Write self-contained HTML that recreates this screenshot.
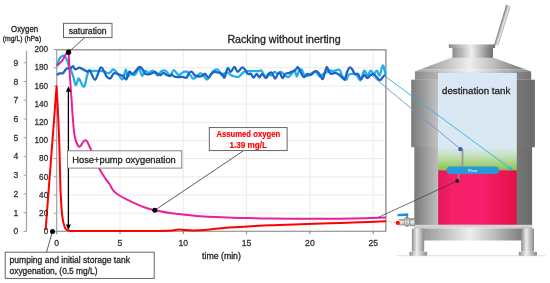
<!DOCTYPE html>
<html><head><meta charset="utf-8"><style>
html,body{margin:0;padding:0;background:#fff;}
svg{display:block;}
text{font-family:"Liberation Sans",Arial,sans-serif;}
</style></head><body>
<svg width="550" height="283" viewBox="0 0 550 283">
<rect width="550" height="283" fill="#fff"/>
<defs>
<linearGradient id="mtl" x1="0" x2="1" y1="0" y2="0">
<stop offset="0" stop-color="#7a7a7a"/><stop offset="0.22" stop-color="#c4c4c4"/><stop offset="0.42" stop-color="#f0f0f0"/><stop offset="0.62" stop-color="#b4b4b4"/><stop offset="0.85" stop-color="#787878"/><stop offset="1" stop-color="#6a6a6a"/>
</linearGradient>
<linearGradient id="mtl2" x1="0" x2="1" y1="0" y2="0">
<stop offset="0" stop-color="#8a8a8a"/><stop offset="0.28" stop-color="#c4c4c4"/><stop offset="0.47" stop-color="#eeeeee"/><stop offset="0.68" stop-color="#bcbcbc"/><stop offset="0.88" stop-color="#868686"/><stop offset="1" stop-color="#747474"/>
</linearGradient>
<linearGradient id="leg" x1="0" x2="1" y1="0" y2="0">
<stop offset="0" stop-color="#8c8c8c"/><stop offset="0.4" stop-color="#eeeeee"/><stop offset="0.7" stop-color="#bdbdbd"/><stop offset="1" stop-color="#8a8a8a"/>
</linearGradient>
<linearGradient id="lidg" gradientUnits="userSpaceOnUse" x1="500.15" y1="24.9" x2="504.35" y2="26.2">
<stop offset="0" stop-color="#7a7a7a"/><stop offset="0.65" stop-color="#e8e8e8"/><stop offset="1" stop-color="#a8a8a8"/>
</linearGradient>
<linearGradient id="win" x1="0" x2="0" y1="0" y2="1">
<stop offset="0" stop-color="#dae8f6"/><stop offset="0.76" stop-color="#dae8f1"/><stop offset="0.85" stop-color="#c6e0bc"/><stop offset="0.93" stop-color="#a2d27a"/><stop offset="1" stop-color="#82c34c"/>
</linearGradient>
<linearGradient id="liq" x1="0" x2="1" y1="0" y2="0">
<stop offset="0" stop-color="#e41658"/><stop offset="0.12" stop-color="#ee1b62"/><stop offset="0.16" stop-color="#f51f6a"/><stop offset="0.6" stop-color="#f51f6a"/><stop offset="0.7" stop-color="#f01a5e"/><stop offset="0.9" stop-color="#ea1450"/><stop offset="1" stop-color="#e01046"/>
</linearGradient>
<linearGradient id="vpipe" x1="0" x2="0" y1="0" y2="1">
<stop offset="0" stop-color="#8a8a8a"/><stop offset="0.45" stop-color="#ececec"/><stop offset="0.75" stop-color="#c8c8c8"/><stop offset="1" stop-color="#8a8a8a"/>
</linearGradient>
</defs>
<!-- ground line -->
<line x1="397" y1="255.7" x2="545.5" y2="255.7" stroke="#e0e0e0" stroke-width="1"/>
<!-- lid -->
<polygon points="506.2,4.8 510.6,6.4 498.3,45.5 493.9,45.5" fill="url(#lidg)"/>
<!-- bottom band -->
<rect x="414.5" y="226.5" width="117.5" height="14" fill="url(#mtl2)"/>

<!-- lower body -->
<rect x="414.3" y="147" width="117.8" height="80" fill="url(#mtl)"/>
<!-- upper body -->
<rect x="411.2" y="79.7" width="123.7" height="67.5" fill="url(#mtl)"/>
<!-- band -->
<rect x="414.9" y="71.4" width="116.3" height="8.4" fill="url(#mtl2)"/>
<!-- cone -->
<polygon points="451.7,57.6 493,57.6 531.2,71.6 414.9,71.6" fill="url(#mtl2)"/>
<polygon points="419,69 527,69 531.2,70.6 414.9,70.6" fill="#fff" opacity="0.35"/>
<!-- neck -->
<rect x="452.4" y="47.8" width="40.6" height="10" fill="url(#mtl2)"/>
<rect x="448.8" y="44.2" width="46.3" height="3.8" fill="url(#mtl2)"/>
<rect x="449.5" y="44.2" width="45" height="0.9" fill="#fff" opacity="0.3"/>
<!-- window -->
<rect x="438" y="72.8" width="78.8" height="98" fill="url(#win)"/>
<rect x="438.2" y="170.4" width="78.4" height="54.4" fill="url(#liq)"/>
<rect x="414.3" y="224.8" width="117.8" height="2.6" fill="#d4d4d4"/>
<rect x="414.5" y="227.4" width="117.5" height="1.2" fill="#e8e8e8" opacity="0.8"/>
<!-- legs -->
<rect x="411.9" y="228.2" width="12.3" height="23.5" rx="1.5" fill="url(#leg)"/>
<rect x="409.4" y="251.8" width="17.8" height="4" rx="1" fill="url(#leg)"/>
<rect x="521.2" y="228.2" width="12.8" height="23.5" rx="1.5" fill="url(#leg)"/>
<rect x="518.8" y="251.8" width="18.2" height="4" rx="1" fill="url(#leg)"/>
<!-- valve -->
<polygon points="397.5,214 407.6,213.2 408.4,214 408.2,215.9 397.5,216.3" fill="#1f8fe0"/>
<rect x="406.4" y="215.5" width="1.4" height="2.5" fill="#666"/>
<rect x="398.8" y="219" width="15.8" height="6.4" fill="url(#vpipe)"/>
<rect x="410" y="218.4" width="4.4" height="7.6" fill="url(#vpipe)" stroke="#8a8a8a" stroke-width="0.5"/>
<ellipse cx="407" cy="221.8" rx="2.7" ry="4.7" fill="url(#vpipe)" stroke="#7e7e7e" stroke-width="0.7"/>
<line x1="407" y1="217.5" x2="407" y2="226" stroke="#999" stroke-width="0.8"/>
<!-- title in tank -->
<text x="442" y="93.8" font-size="9.6" fill="#222" textLength="68.3" lengthAdjust="spacingAndGlyphs" stroke="#222" stroke-width="0.28">destination tank</text>
<!-- float assembly -->
<rect x="461.6" y="149.5" width="1.8" height="17.5" fill="#9a9a9a"/>
<rect x="457.8" y="174" width="1.6" height="7" fill="#8a8a8a"/>
<line x1="499" y1="169.8" x2="511" y2="168.6" stroke="#999" stroke-width="0.8"/>
<rect x="446.5" y="166.6" width="52.5" height="7.5" rx="3.75" fill="#2a98d6"/>
<text x="472.6" y="172.1" font-size="4.2" fill="#fff" text-anchor="middle" stroke="#fff" stroke-width="0">Float</text>

<line x1="56.7" y1="213.2" x2="385.8" y2="213.2" stroke="#ebebeb" stroke-width="1"/>
<line x1="56.7" y1="195.0" x2="385.8" y2="195.0" stroke="#ebebeb" stroke-width="1"/>
<line x1="56.7" y1="176.8" x2="385.8" y2="176.8" stroke="#ebebeb" stroke-width="1"/>
<line x1="56.7" y1="158.6" x2="385.8" y2="158.6" stroke="#ebebeb" stroke-width="1"/>
<line x1="56.7" y1="140.4" x2="385.8" y2="140.4" stroke="#ebebeb" stroke-width="1"/>
<line x1="56.7" y1="122.3" x2="385.8" y2="122.3" stroke="#ebebeb" stroke-width="1"/>
<line x1="56.7" y1="104.1" x2="385.8" y2="104.1" stroke="#ebebeb" stroke-width="1"/>
<line x1="56.7" y1="85.9" x2="385.8" y2="85.9" stroke="#ebebeb" stroke-width="1"/>
<line x1="56.7" y1="67.7" x2="385.8" y2="67.7" stroke="#ebebeb" stroke-width="1"/>
<line x1="120.0" y1="49.5" x2="120.0" y2="231.4" stroke="#ebebeb" stroke-width="1"/>
<line x1="183.3" y1="49.5" x2="183.3" y2="231.4" stroke="#ebebeb" stroke-width="1"/>
<line x1="246.6" y1="49.5" x2="246.6" y2="231.4" stroke="#ebebeb" stroke-width="1"/>
<line x1="309.9" y1="49.5" x2="309.9" y2="231.4" stroke="#ebebeb" stroke-width="1"/>
<line x1="373.2" y1="49.5" x2="373.2" y2="231.4" stroke="#ebebeb" stroke-width="1"/>
<path d="M56.7,49.8 H385.9 V231.4" fill="none" stroke="#9a9a9a" stroke-width="1.5"/>
<line x1="56.7" y1="49.5" x2="56.7" y2="231.8" stroke="#a0a0a0" stroke-width="1.2"/>
<line x1="56.7" y1="231.2" x2="386" y2="231.2" stroke="#808080" stroke-width="1.1"/>
<line x1="53.6" y1="231.4" x2="56.7" y2="231.4" stroke="#a0a0a0" stroke-width="1"/>
<line x1="53.6" y1="213.2" x2="56.7" y2="213.2" stroke="#a0a0a0" stroke-width="1"/>
<line x1="53.6" y1="195.0" x2="56.7" y2="195.0" stroke="#a0a0a0" stroke-width="1"/>
<line x1="53.6" y1="176.8" x2="56.7" y2="176.8" stroke="#a0a0a0" stroke-width="1"/>
<line x1="53.6" y1="158.6" x2="56.7" y2="158.6" stroke="#a0a0a0" stroke-width="1"/>
<line x1="53.6" y1="140.4" x2="56.7" y2="140.4" stroke="#a0a0a0" stroke-width="1"/>
<line x1="53.6" y1="122.3" x2="56.7" y2="122.3" stroke="#a0a0a0" stroke-width="1"/>
<line x1="53.6" y1="104.1" x2="56.7" y2="104.1" stroke="#a0a0a0" stroke-width="1"/>
<line x1="53.6" y1="85.9" x2="56.7" y2="85.9" stroke="#a0a0a0" stroke-width="1"/>
<line x1="53.6" y1="67.7" x2="56.7" y2="67.7" stroke="#a0a0a0" stroke-width="1"/>
<line x1="53.6" y1="49.5" x2="56.7" y2="49.5" stroke="#a0a0a0" stroke-width="1"/>
<line x1="56.7" y1="231.4" x2="56.7" y2="234.2" stroke="#808080" stroke-width="1"/>
<line x1="120.0" y1="231.4" x2="120.0" y2="234.2" stroke="#808080" stroke-width="1"/>
<line x1="183.3" y1="231.4" x2="183.3" y2="234.2" stroke="#808080" stroke-width="1"/>
<line x1="246.6" y1="231.4" x2="246.6" y2="234.2" stroke="#808080" stroke-width="1"/>
<line x1="309.9" y1="231.4" x2="309.9" y2="234.2" stroke="#808080" stroke-width="1"/>
<line x1="373.2" y1="231.4" x2="373.2" y2="234.2" stroke="#808080" stroke-width="1"/>
<line x1="26.5" y1="50.6" x2="26.5" y2="231.4" stroke="#a0a0a0" stroke-width="1.2"/>
<line x1="23.6" y1="231.4" x2="26.5" y2="231.4" stroke="#a0a0a0" stroke-width="1"/>
<line x1="23.6" y1="212.7" x2="26.5" y2="212.7" stroke="#a0a0a0" stroke-width="1"/>
<line x1="23.6" y1="193.9" x2="26.5" y2="193.9" stroke="#a0a0a0" stroke-width="1"/>
<line x1="23.6" y1="175.2" x2="26.5" y2="175.2" stroke="#a0a0a0" stroke-width="1"/>
<line x1="23.6" y1="156.4" x2="26.5" y2="156.4" stroke="#a0a0a0" stroke-width="1"/>
<line x1="23.6" y1="137.7" x2="26.5" y2="137.7" stroke="#a0a0a0" stroke-width="1"/>
<line x1="23.6" y1="119.0" x2="26.5" y2="119.0" stroke="#a0a0a0" stroke-width="1"/>
<line x1="23.6" y1="100.2" x2="26.5" y2="100.2" stroke="#a0a0a0" stroke-width="1"/>
<line x1="23.6" y1="81.5" x2="26.5" y2="81.5" stroke="#a0a0a0" stroke-width="1"/>
<line x1="23.6" y1="62.7" x2="26.5" y2="62.7" stroke="#a0a0a0" stroke-width="1"/>
<path d="M57.0,66.5 C57.4,65.3 58.2,61.1 59.1,59.3 C60.0,57.5 61.5,56.3 62.5,55.9 C63.5,55.5 64.5,56.0 65.3,57.0 C66.1,58.0 66.9,59.7 67.6,61.6 C68.3,63.5 69.0,66.8 69.7,68.5 C70.4,70.2 70.9,70.3 71.6,71.8 C72.2,73.3 72.9,75.5 73.6,77.7 C74.2,79.9 74.9,84.4 75.5,85.0 C76.1,85.6 76.9,82.6 77.4,81.5 C77.9,80.4 78.1,78.3 78.6,78.3 C79.1,78.3 79.8,80.2 80.6,81.5 C81.3,82.8 82.4,85.7 83.1,86.3 C83.8,86.9 84.4,86.7 85.0,85.0 C85.6,83.3 86.3,78.7 86.9,76.4 C87.5,74.2 87.8,72.4 88.4,71.5 C89.0,70.6 89.7,70.9 90.6,70.8 C91.5,70.7 91.7,71.0 93.7,71.0 C95.7,71.0 100.0,70.6 102.5,71.0 C105.0,71.4 107.2,73.5 109.0,73.2 C110.8,73.0 111.8,69.3 113.4,69.5 C115.0,69.7 117.0,73.0 118.5,74.6 C120.0,76.2 121.4,80.0 122.6,79.2 C123.8,78.4 125.0,70.1 125.8,69.7 C126.6,69.3 126.6,76.3 127.4,77.0 C128.2,77.7 129.4,74.2 130.6,73.9 C131.8,73.6 133.4,75.9 134.8,75.0 C136.2,74.1 137.8,68.4 139.0,68.6 C140.2,68.8 141.2,75.7 142.2,76.0 C143.2,76.3 143.8,71.2 144.9,70.7 C146.0,70.2 147.3,72.8 148.6,72.8 C149.9,72.8 151.3,70.2 152.8,70.7 C154.3,71.2 156.2,75.4 157.6,75.5 C159.0,75.6 160.0,72.0 161.3,71.2 C162.6,70.4 164.1,70.0 165.6,70.7 C167.1,71.4 168.7,75.6 170.1,75.5 C171.5,75.4 172.4,70.3 173.8,70.2 C175.2,70.1 176.9,74.7 178.6,75.0 C180.3,75.3 182.3,72.2 183.9,71.8 C185.5,71.3 186.5,71.1 188.1,72.3 C189.7,73.5 191.8,78.2 193.4,78.7 C195.0,79.2 196.5,75.9 197.7,75.0 C198.9,74.1 199.8,73.2 200.8,73.4 C201.9,73.6 203.0,75.0 204.0,76.0 C205.0,77.0 205.7,79.6 206.7,79.7 C207.7,79.8 208.8,77.9 209.8,76.5 C210.9,75.1 211.6,72.3 213.0,71.2 C214.4,70.1 216.7,69.1 218.1,69.7 C219.5,70.3 220.2,74.4 221.3,75.0 C222.4,75.6 223.4,73.9 224.5,73.4 C225.6,73.0 226.6,72.0 227.7,72.3 C228.8,72.6 229.6,74.3 230.8,75.0 C232.0,75.7 233.7,76.2 235.1,76.5 C236.5,76.8 237.9,77.2 239.3,76.5 C240.7,75.8 242.1,73.2 243.5,72.3 C244.9,71.4 245.3,71.4 247.8,71.2 C250.3,71.0 256.1,71.3 258.4,71.2 C260.7,71.1 260.5,69.7 261.6,70.7 C262.7,71.7 263.9,76.5 265.0,77.0 C266.1,77.5 267.1,74.2 268.2,73.9 C269.3,73.7 270.3,75.8 271.4,75.5 C272.5,75.2 273.5,72.1 274.6,71.8 C275.7,71.5 276.7,73.9 277.8,73.9 C278.9,73.9 279.8,71.5 281.0,71.8 C282.2,72.1 284.0,74.6 285.2,75.5 C286.4,76.4 287.3,77.4 288.4,77.1 C289.4,76.8 290.4,75.0 291.5,73.9 C292.6,72.8 293.8,70.3 294.7,70.7 C295.6,71.1 296.1,76.5 296.8,76.5 C297.5,76.5 298.2,71.8 299.0,70.7 C299.8,69.6 300.7,69.0 301.6,69.7 C302.5,70.4 303.3,74.0 304.3,75.0 C305.3,76.0 306.3,76.2 307.4,76.0 C308.4,75.8 309.5,74.6 310.6,73.9 C311.7,73.2 313.1,72.2 314.0,71.8 C314.9,71.4 315.3,71.0 316.2,71.8 C317.1,72.6 318.3,76.1 319.4,76.5 C320.5,76.9 321.5,75.0 322.6,74.4 C323.7,73.8 324.7,73.5 325.8,72.8 C326.9,72.1 327.8,70.5 329.0,70.2 C330.2,69.9 331.4,71.3 333.2,71.2 C334.9,71.1 338.1,69.1 339.5,69.7 C340.9,70.3 340.8,73.5 341.7,75.0 C342.6,76.5 343.8,78.2 344.6,79.0 C345.4,79.8 345.9,80.2 346.5,79.5 C347.1,78.8 347.4,75.9 348.4,75.0 C349.4,74.1 351.2,73.9 352.6,73.9 C354.0,73.9 355.5,74.0 356.8,75.0 C358.1,76.0 359.3,80.9 360.5,80.2 C361.7,79.5 363.1,71.5 364.2,70.7 C365.3,69.9 366.3,75.5 367.4,75.5 C368.5,75.5 369.5,71.0 370.6,70.7 C371.7,70.4 372.7,73.9 373.8,73.9 C374.9,73.9 376.0,70.4 377.0,70.7 C378.0,71.0 378.6,76.4 379.6,75.5 C380.6,74.6 381.9,66.0 382.8,65.4 C383.7,64.8 384.4,70.3 384.9,71.8 C385.4,73.3 385.6,74.0 385.8,74.4" fill="none" stroke="#1fb0ec" stroke-width="2.3" stroke-linejoin="round"/>
<path d="M57.0,75.0 C57.4,74.7 58.7,73.7 59.6,73.4 C60.5,73.1 61.8,73.7 62.5,73.4 C63.2,73.2 63.4,72.6 64.0,71.9 C64.6,71.2 65.3,70.0 65.9,69.4 C66.5,68.8 67.0,68.2 67.8,68.1 C68.5,68.0 69.6,69.0 70.4,68.7 C71.2,68.4 72.1,66.1 72.9,66.2 C73.8,66.3 74.4,69.2 75.5,69.4 C76.6,69.7 78.0,67.7 79.3,67.7 C80.6,67.7 81.8,68.8 83.1,69.4 C84.4,70.0 86.1,71.3 87.3,71.5 C88.5,71.7 88.7,69.4 90.0,70.8 C91.3,72.2 93.4,80.3 95.2,79.7 C97.0,79.1 99.1,67.9 101.0,67.4 C102.9,66.9 105.2,75.0 106.8,76.8 C108.4,78.6 109.3,78.9 110.5,78.3 C111.7,77.7 112.5,73.8 114.0,73.2 C115.5,72.6 117.7,74.1 119.2,74.6 C120.7,75.1 122.0,75.2 123.2,76.0 C124.4,76.8 125.4,79.9 126.4,79.2 C127.4,78.5 128.0,72.7 129.0,71.8 C130.1,70.9 131.5,74.1 132.7,73.9 C133.8,73.7 134.8,71.9 135.9,70.7 C137.1,69.5 138.4,67.2 139.6,67.0 C140.8,66.8 141.8,68.5 142.8,69.7 C143.8,70.9 144.4,73.1 145.4,73.9 C146.4,74.7 147.5,74.5 148.6,74.4 C149.7,74.3 150.7,73.8 151.8,73.4 C152.9,73.0 154.0,71.7 155.0,71.8 C156.0,71.9 156.6,73.4 157.6,73.9 C158.6,74.4 159.8,75.2 160.8,75.0 C161.8,74.8 162.4,72.8 163.4,72.8 C164.4,72.8 165.5,74.5 166.6,75.0 C167.7,75.5 169.2,76.1 170.0,76.0 C170.8,75.9 170.5,74.3 171.2,74.4 C171.9,74.5 173.2,76.0 174.4,76.5 C175.6,77.0 177.2,77.0 178.6,77.1 C180.0,77.2 181.5,76.8 182.8,76.9 C184.1,77.0 185.4,78.3 186.5,77.6 C187.6,76.9 188.3,73.8 189.2,72.8 C190.1,71.8 190.8,71.3 191.8,71.8 C192.8,72.2 193.8,74.7 195.0,75.5 C196.2,76.3 197.5,76.4 198.7,76.5 C199.8,76.6 200.8,76.4 201.9,76.0 C203.0,75.6 204.0,73.6 205.1,73.9 C206.2,74.2 207.2,77.6 208.3,77.6 C209.4,77.6 210.4,74.9 211.4,73.9 C212.4,72.9 213.6,72.0 214.6,71.8 C215.6,71.6 216.6,72.3 217.5,72.5 C218.4,72.7 219.4,72.5 220.2,72.8 C221.0,73.1 221.7,73.6 222.4,74.4 C223.1,75.2 223.8,78.2 224.5,77.6 C225.2,77.0 226.0,72.3 226.6,70.7 C227.2,69.1 227.5,67.8 228.2,68.0 C228.9,68.2 229.8,72.0 230.8,71.8 C231.9,71.6 233.3,67.0 234.5,67.0 C235.7,67.0 236.4,71.7 237.7,71.8 C238.9,71.9 240.8,67.8 242.0,67.5 C243.2,67.2 244.1,68.6 245.1,69.7 C246.1,70.8 246.8,73.2 247.8,73.9 C248.8,74.6 250.0,73.3 251.0,73.9 C252.0,74.5 252.6,77.6 253.6,77.6 C254.6,77.6 255.8,73.9 256.8,73.9 C257.8,73.9 258.5,77.6 259.4,77.6 C260.3,77.6 261.0,73.8 262.1,73.9 C263.2,74.0 264.9,78.2 266.1,78.1 C267.3,78.0 268.3,74.3 269.3,73.4 C270.3,72.5 270.9,71.9 271.9,72.8 C272.9,73.7 274.1,78.5 275.1,78.7 C276.1,78.9 277.0,74.9 277.8,73.9 C278.6,72.9 279.1,72.1 279.9,72.8 C280.7,73.5 281.6,77.9 282.5,78.1 C283.4,78.3 284.1,74.8 285.2,73.9 C286.3,73.0 288.1,73.2 289.4,72.8 C290.7,72.3 292.0,71.7 293.1,71.2 C294.2,70.7 295.0,70.4 295.8,69.7 C296.6,69.0 297.2,66.8 297.9,67.0 C298.6,67.2 299.3,69.4 300.0,70.7 C300.7,72.0 301.4,73.9 302.1,75.0 C302.8,76.1 303.4,77.3 304.3,77.1 C305.2,76.9 306.3,74.2 307.4,73.9 C308.4,73.6 309.5,75.3 310.6,75.0 C311.7,74.7 313.1,72.9 314.0,72.3 C314.9,71.7 315.3,70.9 316.2,71.2 C317.1,71.5 318.3,72.6 319.4,73.9 C320.5,75.2 321.7,79.4 322.6,79.2 C323.5,79.0 324.0,74.8 324.7,72.8 C325.4,70.8 326.1,67.2 326.8,67.0 C327.5,66.8 328.3,70.6 329.0,71.8 C329.7,73.0 330.1,73.7 331.1,73.9 C332.2,74.1 333.9,72.6 335.3,72.8 C336.7,73.0 338.3,74.1 339.5,75.0 C340.7,75.9 341.8,77.4 342.7,78.1 C343.6,78.8 344.1,80.2 344.8,79.2 C345.6,78.2 346.4,73.8 347.2,71.8 C348.0,69.8 348.9,67.8 349.8,67.5 C350.7,67.2 351.7,68.6 352.5,69.7 C353.3,70.8 353.7,73.2 354.6,73.9 C355.5,74.6 356.7,73.0 357.8,73.9 C358.9,74.8 360.0,79.0 361.1,79.2 C362.2,79.4 363.1,75.2 364.2,75.0 C365.2,74.8 366.3,78.1 367.4,78.1 C368.5,78.1 369.5,75.6 370.6,75.0 C371.7,74.4 372.7,74.0 373.8,74.4 C374.9,74.8 375.9,76.6 377.0,77.6 C378.1,78.6 379.1,80.4 380.1,80.2 C381.2,80.0 382.4,77.4 383.3,76.5 C384.2,75.6 385.0,75.2 385.4,75.0" fill="none" stroke="#1d63c6" stroke-width="2.3" stroke-linejoin="round"/>
<path d="M45.6,230.2 L56.6,86.2  C56.8,90.5 57.6,103.0 58.0,112.0 C58.4,121.0 58.8,128.7 59.2,140.0 C59.6,151.3 59.9,169.5 60.2,180.0 C60.5,190.5 60.8,196.8 61.2,203.0 C61.6,209.2 61.9,213.2 62.4,217.0 C62.9,220.8 63.6,223.9 64.3,226.0 C65.0,228.1 65.5,229.0 66.5,229.8 C67.5,230.6 68.6,230.7 70.0,230.9 C71.4,231.1 66.7,231.1 75.0,231.1 C83.3,231.1 107.5,231.1 120.0,231.1 C132.5,231.1 141.4,231.1 150.0,231.0 C158.6,230.9 167.1,230.8 171.8,230.5 C176.5,230.2 176.2,229.5 178.4,229.4 C180.6,229.3 182.4,229.8 184.9,230.0 C187.4,230.2 190.3,230.4 193.6,230.4 C196.9,230.4 200.8,230.3 204.5,230.0 C208.2,229.7 211.8,229.2 215.5,228.8 C219.2,228.4 221.0,228.2 226.4,227.8 C231.8,227.4 240.9,226.9 248.2,226.5 C255.5,226.1 261.4,225.7 270.0,225.3 C278.6,224.9 290.0,224.6 300.0,224.3 C310.0,224.0 320.0,223.7 330.0,223.3 C340.0,223.0 350.7,222.5 360.0,222.2 C369.3,221.9 381.7,221.5 386.0,221.3" fill="none" stroke="#ff0000" stroke-width="2.0" stroke-linejoin="round"/>
<path d="M57.0,65.5 C57.6,64.9 59.6,63.5 60.8,62.1 C62.0,60.8 63.3,58.9 64.2,57.4 C65.1,55.9 65.7,54.2 66.4,53.3 C67.1,52.4 68.1,51.4 68.5,52.2 C68.9,53.0 68.8,55.7 68.9,58.0 C69.0,60.3 69.2,63.2 69.3,66.0 C69.4,68.8 69.6,72.2 69.8,75.0 C70.0,77.8 70.2,80.2 70.4,83.0 C70.6,85.8 70.8,89.2 71.0,92.0 C71.2,94.8 71.3,95.7 71.6,100.0 C71.9,104.3 72.3,112.0 72.8,118.0 C73.3,124.0 73.8,131.7 74.7,136.3 C75.6,140.9 76.9,144.0 77.9,145.6 C78.9,147.2 79.6,146.7 80.5,146.0 C81.4,145.3 82.5,142.4 83.5,141.5 C84.5,140.6 85.4,139.7 86.4,140.5 C87.4,141.3 88.6,144.6 89.5,146.5 C90.4,148.4 91.0,149.8 92.0,152.0 C93.0,154.2 94.4,157.4 95.5,160.0 C96.6,162.6 97.2,164.6 98.7,167.5 C100.2,170.4 102.9,174.7 104.7,177.5 C106.5,180.3 108.1,182.1 109.6,184.3 C111.1,186.5 111.7,188.9 113.5,190.8 C115.3,192.8 116.9,194.0 120.3,196.0 C123.7,198.0 129.7,200.9 133.9,202.8 C138.1,204.8 142.1,206.5 145.6,207.7 C149.1,208.9 151.2,209.3 154.9,210.2 C158.6,211.0 163.4,212.1 168.0,212.8 C172.6,213.5 177.4,213.9 182.7,214.5 C188.0,215.1 194.5,215.8 200.0,216.2 C205.5,216.6 208.8,216.8 215.5,217.1 C222.2,217.4 230.9,217.7 240.0,217.9 C249.1,218.1 258.3,218.4 270.0,218.5 C281.7,218.6 298.3,218.7 310.0,218.7 C321.7,218.7 330.8,218.8 340.0,218.7 C349.2,218.6 357.3,218.5 365.0,218.3 C372.7,218.1 382.5,217.7 386.0,217.6" fill="none" stroke="#e8209a" stroke-width="2.0" stroke-linejoin="round"/>
<text x="48.2" y="234.1" text-anchor="end" font-size="8.2" fill="#333" stroke="#333" stroke-width="0.28">0</text>
<text x="48.2" y="215.9" text-anchor="end" font-size="8.2" fill="#333" stroke="#333" stroke-width="0.28">20</text>
<text x="48.2" y="197.7" text-anchor="end" font-size="8.2" fill="#333" stroke="#333" stroke-width="0.28">40</text>
<text x="48.2" y="179.5" text-anchor="end" font-size="8.2" fill="#333" stroke="#333" stroke-width="0.28">60</text>
<text x="48.2" y="161.3" text-anchor="end" font-size="8.2" fill="#333" stroke="#333" stroke-width="0.28">80</text>
<text x="48.2" y="143.1" text-anchor="end" font-size="8.2" fill="#333" stroke="#333" stroke-width="0.28">100</text>
<text x="48.2" y="125.0" text-anchor="end" font-size="8.2" fill="#333" stroke="#333" stroke-width="0.28">120</text>
<text x="48.2" y="106.8" text-anchor="end" font-size="8.2" fill="#333" stroke="#333" stroke-width="0.28">140</text>
<text x="48.2" y="88.6" text-anchor="end" font-size="8.2" fill="#333" stroke="#333" stroke-width="0.28">160</text>
<text x="48.2" y="70.4" text-anchor="end" font-size="8.2" fill="#333" stroke="#333" stroke-width="0.28">180</text>
<text x="48.2" y="52.2" text-anchor="end" font-size="8.2" fill="#333" stroke="#333" stroke-width="0.28">200</text>
<text x="18.2" y="234.4" text-anchor="end" font-size="8.6" fill="#333" stroke="#333" stroke-width="0.28">0</text>
<text x="18.2" y="215.7" text-anchor="end" font-size="8.6" fill="#333" stroke="#333" stroke-width="0.28">1</text>
<text x="18.2" y="196.9" text-anchor="end" font-size="8.6" fill="#333" stroke="#333" stroke-width="0.28">2</text>
<text x="18.2" y="178.2" text-anchor="end" font-size="8.6" fill="#333" stroke="#333" stroke-width="0.28">3</text>
<text x="18.2" y="159.4" text-anchor="end" font-size="8.6" fill="#333" stroke="#333" stroke-width="0.28">4</text>
<text x="18.2" y="140.7" text-anchor="end" font-size="8.6" fill="#333" stroke="#333" stroke-width="0.28">5</text>
<text x="18.2" y="122.0" text-anchor="end" font-size="8.6" fill="#333" stroke="#333" stroke-width="0.28">6</text>
<text x="18.2" y="103.2" text-anchor="end" font-size="8.6" fill="#333" stroke="#333" stroke-width="0.28">7</text>
<text x="18.2" y="84.5" text-anchor="end" font-size="8.6" fill="#333" stroke="#333" stroke-width="0.28">8</text>
<text x="18.2" y="65.7" text-anchor="end" font-size="8.6" fill="#333" stroke="#333" stroke-width="0.28">9</text>
<text x="56.7" y="245.8" text-anchor="middle" font-size="8.6" fill="#333" stroke="#333" stroke-width="0.28">0</text>
<text x="120.0" y="245.8" text-anchor="middle" font-size="8.6" fill="#333" stroke="#333" stroke-width="0.28">5</text>
<text x="183.3" y="245.8" text-anchor="middle" font-size="8.6" fill="#333" stroke="#333" stroke-width="0.28">10</text>
<text x="246.6" y="245.8" text-anchor="middle" font-size="8.6" fill="#333" stroke="#333" stroke-width="0.28">15</text>
<text x="309.9" y="245.8" text-anchor="middle" font-size="8.6" fill="#333" stroke="#333" stroke-width="0.28">20</text>
<text x="373.2" y="245.8" text-anchor="middle" font-size="8.6" fill="#333" stroke="#333" stroke-width="0.28">25</text>
<!-- connector lines -->
<line x1="372" y1="75.9" x2="460.4" y2="149" stroke="#6f8fd4" stroke-width="0.9"/>
<line x1="385.8" y1="76.8" x2="510.6" y2="168.7" stroke="#22b5ea" stroke-width="0.9"/>
<line x1="378.5" y1="217.3" x2="457.2" y2="180.9" stroke="#333" stroke-width="0.7"/>
<line x1="386" y1="221.3" x2="397.6" y2="222.8" stroke="#f29a9a" stroke-width="0.9" stroke-dasharray="1.5,1"/>
<circle cx="460.4" cy="149.2" r="2.1" fill="#1f5fc4"/>
<circle cx="510.6" cy="168.7" r="1.7" fill="#22b5ea"/>
<circle cx="457.2" cy="180.9" r="1.8" fill="#111"/>
<circle cx="397.8" cy="222.9" r="2.1" fill="#ff0a0a"/>
<!-- arrow -->
<line x1="68.4" y1="229" x2="68.4" y2="90" stroke="#000" stroke-width="1.3"/>
<polygon points="68.4,86.3 65.9,91.8 70.9,91.8" fill="#000"/>
<polygon points="68.4,230 65.9,224.6 70.9,224.6" fill="#000"/>
<!-- saturation box -->
<line x1="84.7" y1="37.6" x2="68.7" y2="52" stroke="#333" stroke-width="0.8"/>
<rect x="63.5" y="23.3" width="48.5" height="14.3" fill="#fff" stroke="#555" stroke-width="0.9"/>
<text x="68.7" y="33.8" font-size="9.2" fill="#222" textLength="37.9" lengthAdjust="spacingAndGlyphs" stroke="#222" stroke-width="0.28">saturation</text>
<circle cx="68.6" cy="52.2" r="2.6" fill="#000"/>
<!-- Hose box -->
<rect x="67.6" y="150.8" width="114.2" height="17.3" fill="#fff" stroke="#777" stroke-width="0.9"/>
<text x="72.2" y="162.9" font-size="9.8" fill="#222" textLength="103.6" lengthAdjust="spacingAndGlyphs" stroke="#222" stroke-width="0.28">Hose+pump oxygenation</text>
<!-- Assumed oxygen box -->
<line x1="243.4" y1="150.8" x2="154.8" y2="210.3" stroke="#333" stroke-width="0.8"/>
<rect x="209.3" y="127.6" width="77.8" height="23" fill="#fff" stroke="#555" stroke-width="0.9"/>
<text x="216.4" y="137.2" font-size="8.8" font-weight="bold" fill="#ff0000" textLength="63.8" lengthAdjust="spacingAndGlyphs" stroke="#ff0000" stroke-width="0.15">Assumed oxygen</text>
<text x="229.5" y="147.5" font-size="8.8" font-weight="bold" fill="#ff0000" textLength="37.6" lengthAdjust="spacingAndGlyphs" stroke="#ff0000" stroke-width="0.15">1.39 mg/L</text>
<circle cx="154.8" cy="210.3" r="2.5" fill="#000"/>
<!-- pumping box -->
<line x1="46.5" y1="252.2" x2="52.5" y2="231.4" stroke="#333" stroke-width="0.8"/>
<rect x="5.2" y="252.2" width="149" height="26.2" fill="#fff" stroke="#555" stroke-width="0.9"/>
<text x="9.6" y="263.3" font-size="9" fill="#222" textLength="120.4" lengthAdjust="spacingAndGlyphs" stroke="#222" stroke-width="0.28">pumping and initial storage tank</text>
<text x="9.6" y="273.6" font-size="9" fill="#222" textLength="87.9" lengthAdjust="spacingAndGlyphs" stroke="#222" stroke-width="0.28">oxygenation, (0.5 mg/L)</text>
<circle cx="52.5" cy="231.4" r="2.5" fill="#000"/>
<!-- titles -->
<text x="227.4" y="42.5" font-size="10.2" fill="#222" textLength="113.2" lengthAdjust="spacingAndGlyphs" stroke="#222" stroke-width="0.28">Racking without inerting</text>
<text x="11.1" y="31.7" font-size="8.3" fill="#222" textLength="27" lengthAdjust="spacingAndGlyphs" stroke="#222" stroke-width="0.28">Oxygen</text>
<text x="2.8" y="41.3" font-size="7.2" fill="#222" textLength="38.4" lengthAdjust="spacingAndGlyphs" stroke="#222" stroke-width="0.28">(mg/L) (hPa)</text>
<text x="202.1" y="258.9" font-size="8.6" fill="#222" textLength="38.8" lengthAdjust="spacingAndGlyphs" stroke="#222" stroke-width="0.28">time (min)</text>

</svg>
</body></html>
